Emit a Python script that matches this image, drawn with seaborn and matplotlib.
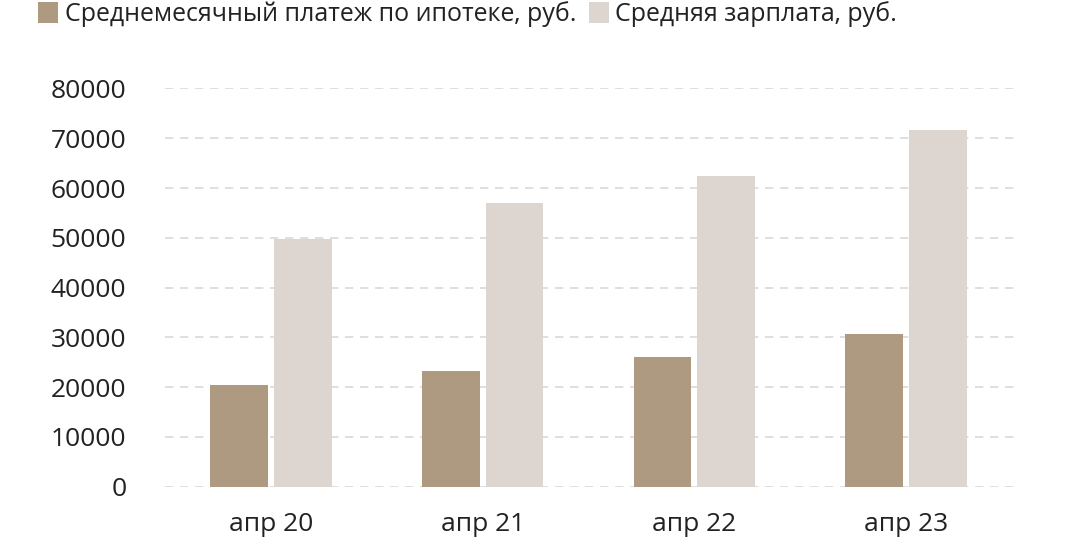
import matplotlib
matplotlib.use("Agg")
import matplotlib.pyplot as plt
import seaborn as sns
import pandas as pd

periods = ["апр 20", "апр 21", "апр 22", "апр 23"]
mortgage = [20400, 23200, 26000, 30600]
salary = [49700, 56900, 62500, 71700]
series_names = ["Среднемесячный платеж по ипотеке, руб.", "Средняя зарплата, руб."]

df = pd.DataFrame({
    "period": periods * 2,
    "value": mortgage + salary,
    "series": [series_names[0]] * 4 + [series_names[1]] * 4,
})

plt.rcParams["font.family"] = "Open Sans"
fig = plt.figure(figsize=(10.66, 5.53), dpi=100)
ax = fig.add_axes([0.155, 0.12, 0.80, 0.72])

sns.barplot(data=df, x="period", y="value", hue="series",
            palette=["#AD9A80", "#DDD5D0"], width=0.6, gap=0.09,
            saturation=1, ax=ax)

ax.set_ylim(0, 80000)
ax.set_xlim(-0.5, 3.53)
ax.set_yticks(range(0, 80001, 10000))
ax.yaxis.grid(True, linestyle=(0, (5, 4)), color="#D9D9D9", linewidth=1.2)
ax.set_axisbelow(True)
for s in ax.spines.values():
    s.set_visible(False)
ax.tick_params(axis="both", length=0, labelsize=19, colors="#222222")
ax.tick_params(axis="y", pad=28)
ax.tick_params(axis="x", pad=18)
ax.set_xlabel("")
ax.set_ylabel("")

ax.legend(loc="upper left", bbox_to_anchor=(-0.175, 1.275), ncol=2, frameon=False,
          fontsize=18, handlelength=0.8, handleheight=0.9, handletextpad=0.25,
          columnspacing=0.5, labelcolor="#222222")

fig.savefig("out.png", dpi=100)
